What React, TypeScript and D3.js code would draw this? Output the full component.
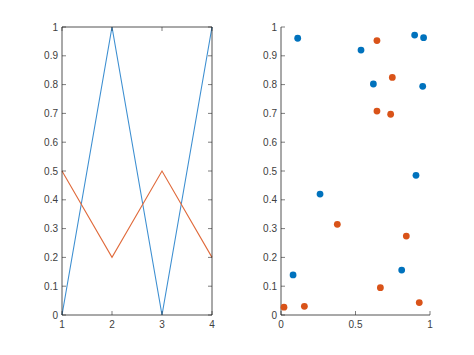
import React, { useEffect, useRef } from 'react';
import * as d3 from 'd3';

// left panel: two line series over x = 1..4
const lineX = [1, 2, 3, 4];
const blueLine = [0, 1, 0, 1];
const orangeLine = [0.5, 0.2, 0.5, 0.2];

// right panel: two scatter groups
const blueX = [0.112, 0.537, 0.62, 0.897, 0.957, 0.951, 0.906, 0.262, 0.081, 0.81];
const blueY = [0.961, 0.92, 0.802, 0.972, 0.963, 0.794, 0.485, 0.42, 0.139, 0.156];
const orangeX = [0.644, 0.747, 0.644, 0.736, 0.378, 0.841, 0.667, 0.928, 0.02, 0.157];
const orangeY = [0.953, 0.825, 0.708, 0.697, 0.315, 0.274, 0.095, 0.043, 0.027, 0.03];

const yTicks = [0, 0.1, 0.2, 0.3, 0.4, 0.5, 0.6, 0.7, 0.8, 0.9, 1];
const leftXTicks = [1, 2, 3, 4];
const rightXTicks = [0, 0.5, 1];

const W = 474;
const H = 355;
const top = 27;
const bottom = 315;
const axisColor = '#262626';
const textColor = '#404040';
const font = '"Liberation Sans", Arial, sans-serif';

const App: React.FC = () => {
  const svgRef = useRef<SVGSVGElement>(null);

  useEffect(() => {
    if (!svgRef.current) return;
    const svg = d3.select(svgRef.current);
    svg.selectAll('*').remove();

    const yScale = d3.scaleLinear().domain([0, 1]).range([bottom, top]);
    const tickLen = 4;

    const drawAxes = (g: any, x: any, xTicks: number[], fmt: (v: number) => string, box: boolean) => {
      const [x0, x1] = x.range();
      // y ticks + labels
      yTicks.forEach(t => {
        const y = yScale(t);
        g.append('line').attr('x1', x0).attr('x2', x0 + tickLen).attr('y1', y).attr('y2', y)
          .attr('stroke', axisColor).attr('stroke-width', 0.6);
        if (box) g.append('line').attr('x1', x1).attr('x2', x1 - tickLen).attr('y1', y).attr('y2', y)
          .attr('stroke', axisColor).attr('stroke-width', 0.6);
        g.append('text').attr('x', x0 - 4).attr('y', y + 3.5).attr('text-anchor', 'end')
          .attr('font-size', 10).attr('font-family', font).attr('fill', textColor)
          .text(d3.format('')(t));
      });
      xTicks.forEach(t => {
        const xv = x(t);
        g.append('line').attr('x1', xv).attr('x2', xv).attr('y1', bottom).attr('y2', bottom - tickLen)
          .attr('stroke', axisColor).attr('stroke-width', 0.6);
        if (box) g.append('line').attr('x1', xv).attr('x2', xv).attr('y1', top).attr('y2', top + tickLen)
          .attr('stroke', axisColor).attr('stroke-width', 0.6);
        g.append('text').attr('x', xv).attr('y', bottom + 13).attr('text-anchor', 'middle')
          .attr('font-size', 10).attr('font-family', font).attr('fill', textColor)
          .text(fmt(t));
      });
      // axis lines
      g.append('line').attr('x1', x0).attr('x2', x0).attr('y1', top).attr('y2', bottom)
        .attr('stroke', axisColor).attr('stroke-width', 0.8);
      g.append('line').attr('x1', x0).attr('x2', x1).attr('y1', bottom).attr('y2', bottom)
        .attr('stroke', axisColor).attr('stroke-width', 0.8);
      if (box) {
        g.append('line').attr('x1', x1).attr('x2', x1).attr('y1', top).attr('y2', bottom)
          .attr('stroke', axisColor).attr('stroke-width', 0.8);
        g.append('line').attr('x1', x0).attr('x2', x1).attr('y1', top).attr('y2', top)
          .attr('stroke', axisColor).attr('stroke-width', 0.8);
      }
    };

    // Left: line plot
    const xLeft = d3.scaleLinear().domain([1, 4]).range([62, 212]);
    const left = svg.append('g');
    const line = d3.line<number>().x((_, i) => xLeft(lineX[i])).y(d => yScale(d));
    left.append('path').attr('d', line(blueLine)).attr('fill', 'none')
      .attr('stroke', '#3d8fd1').attr('stroke-width', 1.1);
    left.append('path').attr('d', line(orangeLine)).attr('fill', 'none')
      .attr('stroke', '#e06a3b').attr('stroke-width', 1.1);
    drawAxes(left, xLeft, leftXTicks, d3.format(''), true);

    // Right: scatter
    const xRight = d3.scaleLinear().domain([0, 1]).range([281, 430]);
    const right = svg.append('g');
    drawAxes(right, xRight, rightXTicks, d3.format(''), false);
    right.selectAll('.b').data(blueX).join('circle').attr('class', 'b')
      .attr('cx', d => xRight(d)).attr('cy', (_, i) => yScale(blueY[i])).attr('r', 3.4)
      .attr('fill', '#0072BD');
    right.selectAll('.o').data(orangeX).join('circle').attr('class', 'o')
      .attr('cx', d => xRight(d)).attr('cy', (_, i) => yScale(orangeY[i])).attr('r', 3.4)
      .attr('fill', '#D95319');
  }, []);

  return (
    <svg ref={svgRef} width={W} height={H}
      style={{ position: 'absolute', left: 0, top: 0, background: '#fff' }} />
  );
};

export default App;
